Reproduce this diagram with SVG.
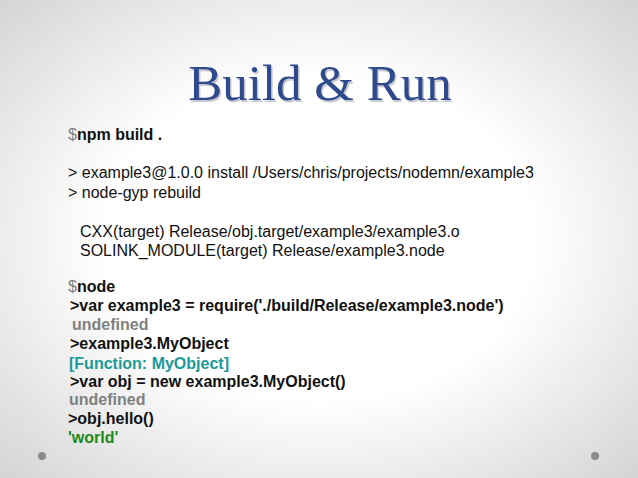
<svg xmlns="http://www.w3.org/2000/svg" width="638" height="478" viewBox="0 0 638 478">
<defs>
<radialGradient id="bg" cx="0.5" cy="0.5" r="0.75">
<stop offset="0.45" stop-color="#ffffff"/><stop offset="1" stop-color="#cfcfcf"/>
</radialGradient>
<style>
.t{font-family:"Liberation Sans",Arial,sans-serif;font-size:16px;fill:#111}
.b{font-weight:bold}
.g{fill:#808080}
</style>
</defs>
<rect width="638" height="478" fill="url(#bg)"/>
<text x="320" y="100" text-anchor="middle" font-family="'Liberation Serif',serif" font-size="51" fill="#c8c8d0" transform="translate(1.5,1.5)">Build &amp; Run</text>
<text x="320" y="100" text-anchor="middle" font-family="'Liberation Serif',serif" font-size="51" fill="#2F4A8C">Build &amp; Run</text>
<text class="t b" x="68" y="140"><tspan class="g" font-weight="normal">$</tspan>npm build .</text>
<text class="t" x="68" y="178">&gt; example3@1.0.0 install /Users/chris/projects/nodemn/example3</text>
<text class="t" x="68" y="198">&gt; node-gyp rebuild</text>
<text class="t" x="80" y="237">CXX(target) Release/obj.target/example3/example3.o</text>
<text class="t" x="80" y="256">SOLINK_MODULE(target) Release/example3.node</text>
<text class="t b" x="68" y="292"><tspan class="g" font-weight="normal">$</tspan>node</text>
<text class="t b" x="70" y="311">&gt;var example3 = require('./build/Release/example3.node')</text>
<text class="t b g" x="72" y="330">undefined</text>
<text class="t b" x="70" y="349">&gt;example3.MyObject</text>
<text class="t b" x="69" y="369" style="fill:#1A9A9A">[Function: MyObject]</text>
<text class="t b" x="70" y="387">&gt;var obj = new example3.MyObject()</text>
<text class="t b g" x="69" y="405">undefined</text>
<text class="t b" x="68" y="424">&gt;obj.hello()</text>
<text class="t b" x="68" y="443" style="fill:#1A8A1A">'world'</text>
<circle cx="42" cy="456" r="4" fill="#8a8a8a"/>
<circle cx="595" cy="456" r="4" fill="#8a8a8a"/>
</svg>
